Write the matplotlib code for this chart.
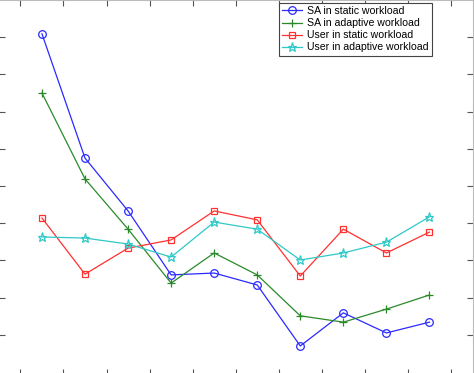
import matplotlib.pyplot as plt

plt.rcParams['font.family'] = ['Liberation Sans', 'DejaVu Sans']

x = [1, 2, 3, 4, 5, 6, 7, 8, 9, 10]
sa_static = [9.09, 5.75, 4.33, 2.61, 2.66, 2.34, 0.70, 1.59, 1.05, 1.34]
sa_adaptive = [7.50, 5.19, 3.84, 2.39, 3.20, 2.61, 1.51, 1.34, 1.69, 2.07]
user_static = [4.14, 2.63, 3.33, 3.55, 4.33, 4.09, 2.58, 3.84, 3.20, 3.76]
user_adaptive = [3.63, 3.60, 3.44, 3.09, 4.03, 3.84, 3.01, 3.20, 3.49, 4.17]
labels = ['SA in static workload', 'SA in adaptive workload',
          'User in static workload', 'User in adaptive workload']

W, H = 474, 373
fig = plt.figure(figsize=(W / 100, H / 100), dpi=100)
# axes run slightly past the image on the left and bottom, like the cropped original
left_px = 42 - 43.1
ax = fig.add_axes([left_px / W, -2 / H, (472.5 - left_px) / W, 375 / H])

ms = 5.5
ax.plot(x, sa_static, color='#2a2aff', lw=0.9, marker='o', ms=ms, mfc='none', mew=0.9, label=labels[0])
ax.plot(x, sa_adaptive, color='#2a8a2a', lw=0.9, marker='+', ms=ms, mew=0.9, label=labels[1])
ax.plot(x, user_static, color='#ff3030', lw=0.9, marker='s', ms=ms - 0.5, mfc='none', mew=0.9, label=labels[2])
ax.plot(x, user_adaptive, color='#30c8c8', lw=0.9, marker='*', ms=ms + 1, mfc='none', mew=0.9, label=labels[3])

ax.set_xlim(0, 11)
ax.set_ylim(-3 / 37.2, 10)
ax.set_xticks([i + 0.5 for i in range(0, 11)])
ax.set_yticks(range(1, 10))
ax.tick_params(direction='in', length=4.5, width=0.8, color='#555555',
               top=True, right=True, labelleft=False, labelbottom=False)
for s in ax.spines.values():
    s.set_color('#bbbbbb')
    s.set_linewidth(0.8)

leg = ax.legend(loc='upper right', bbox_to_anchor=(432 / W, 1 - 3 / H),
                bbox_transform=fig.transFigure, borderaxespad=0,
                fontsize=7.6, handlelength=1.9, handletextpad=0.5,
                labelspacing=0.2, borderpad=0.3, fancybox=False,
                framealpha=1, edgecolor='#444444')
leg.get_frame().set_linewidth(0.8)

fig.savefig('out.png', dpi=100)
